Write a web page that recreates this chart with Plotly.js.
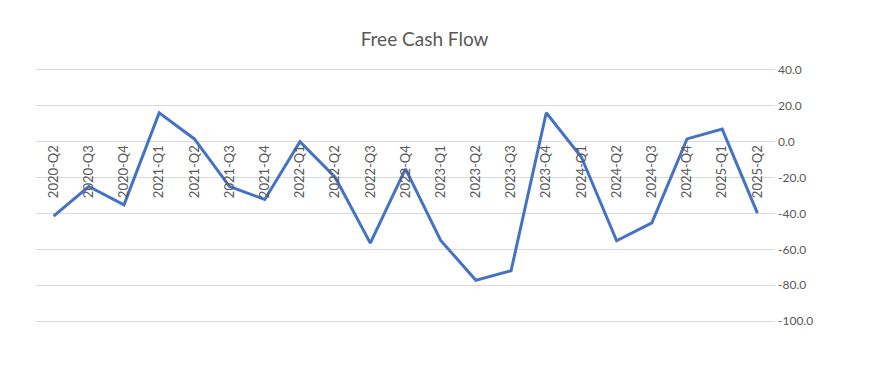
<!DOCTYPE html>
<html>
<head>
<meta charset="utf-8">
<script src="https://cdn.plot.ly/plotly-3.0.1.min.js"></script>
<style>html,body{margin:0;padding:0;background:#fff;}#chart{width:870px;height:365px;}</style>
</head>
<body>
<div id="chart"></div>
<script>
const quarters = ["2020-Q2","2020-Q3","2020-Q4","2021-Q1","2021-Q2","2021-Q3","2021-Q4","2022-Q1","2022-Q2","2022-Q3","2022-Q4","2023-Q1","2023-Q2","2023-Q3","2023-Q4","2024-Q1","2024-Q2","2024-Q3","2024-Q4","2025-Q1","2025-Q2"];
const freeCashFlow = [-41.5,-25.0,-35.2,16.0,1.5,-25.0,-32.2,0.0,-19.8,-56.5,-15.2,-55.0,-77.2,-71.9,16.1,-8.7,-55.2,-45.2,1.5,7.0,-39.8];
const yTicks = [40,20,0,-20,-40,-60,-80,-100];

const FONT = "Lato, 'Liberation Sans', sans-serif";
const trace = {
  x: quarters, y: freeCashFlow, type: 'scatter', mode: 'lines',
  line: {color: '#4472C4', width: 3, shape: 'linear'},
  hoverinfo: 'skip'
};
const yMin = -101, yMax = 41;
const layout = {
  width: 870, height: 365,
  margin: {l: 36, r: 95, t: 67.7, b: 42.2},
  paper_bgcolor: '#fff', plot_bgcolor: '#fff',
  showlegend: false,
  title: {text: 'Free Cash Flow', font: {family: FONT, size: 19, color: '#595959'}, x: 0.488, xanchor: 'center', y: 0.893, yanchor: 'middle'},
  xaxis: {
    type: 'category', range: [-0.5, 20.5],
    anchor: 'free', position: (0 - yMin) / (yMax - yMin),
    showline: false, showgrid: false, zeroline: false,
    ticks: '', tickangle: -90,
    tickfont: {family: FONT, size: 13, color: '#595959'},
    fixedrange: true
  },
  yaxis: {
    side: 'right', range: [yMin, yMax],
    tickvals: yTicks, ticktext: yTicks.map(v => v.toFixed(1)),
    showgrid: true, gridcolor: '#D9D9D9', gridwidth: 1,
    zeroline: false, showline: false, ticks: '',
    ticklabelstandoff: 2,
    tickfont: {family: FONT, size: 12, color: '#595959'},
    fixedrange: true
  }
};
Plotly.newPlot('chart', [trace], layout, {displayModeBar: false, staticPlot: true});
</script>
</body>
</html>
